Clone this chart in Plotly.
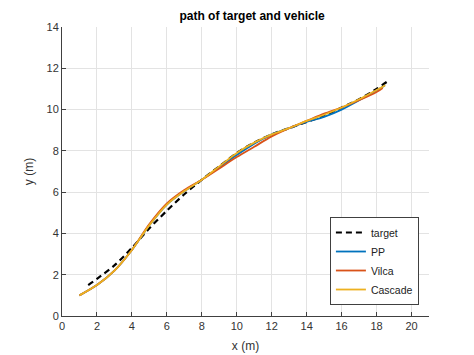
import plotly.graph_objects as go

target_x = [1.5, 2, 3, 4, 5, 6, 7, 8, 9, 10, 11, 12, 13, 14, 15, 16, 17, 18, 18.65]
target_y = [1.5, 1.8, 2.45, 3.3, 4.25, 5.1, 5.9, 6.6, 7.25, 7.9, 8.4, 8.8, 9.1, 9.4, 9.7, 10.1, 10.5, 11.0, 11.38]

pp_x = [1, 2, 3, 4, 5, 6, 7, 8, 9, 10, 11, 12, 13, 14, 15, 16, 17, 18, 18.45]
pp_y = [1.0, 1.5, 2.2, 3.2, 4.4, 5.4, 6.05, 6.6, 7.2, 7.8, 8.35, 8.8, 9.1, 9.4, 9.65, 10.0, 10.45, 10.92, 11.15]

vilca_x = [1, 2, 3, 4, 5, 6, 7, 8, 9, 10, 11, 12, 13, 14, 15, 16, 17, 18, 18.35]
vilca_y = [1.0, 1.5, 2.2, 3.2, 4.45, 5.45, 6.1, 6.6, 7.15, 7.7, 8.2, 8.7, 9.1, 9.45, 9.8, 10.1, 10.45, 10.85, 11.05]

cascade_x = [1, 2, 3, 4, 5, 6, 7, 8, 9, 10, 11, 12, 13, 14, 15, 16, 17, 18, 18.5]
cascade_y = [1.0, 1.5, 2.2, 3.2, 4.4, 5.4, 6.05, 6.6, 7.25, 7.9, 8.4, 8.8, 9.1, 9.45, 9.75, 10.1, 10.5, 10.95, 11.18]

x_ticks = [0, 2, 4, 6, 8, 10, 12, 14, 16, 18, 20]
y_ticks = [0, 2, 4, 6, 8, 10, 12, 14]

FONT = "Liberation Sans, Arial, sans-serif"
SM = 0.8

fig = go.Figure()
fig.add_trace(go.Scatter(x=target_x, y=target_y, mode="lines", name="target",
                         line=dict(color="black", width=2.2, dash="6px,4px", shape="spline", smoothing=SM)))
fig.add_trace(go.Scatter(x=pp_x, y=pp_y, mode="lines", name="PP",
                         line=dict(color="#0072BD", width=1.8, shape="spline", smoothing=SM)))
fig.add_trace(go.Scatter(x=vilca_x, y=vilca_y, mode="lines", name="Vilca",
                         line=dict(color="#D95319", width=1.8, shape="spline", smoothing=SM)))
fig.add_trace(go.Scatter(x=cascade_x, y=cascade_y, mode="lines", name="Cascade",
                         line=dict(color="#EDB120", width=1.8, shape="spline", smoothing=SM)))

axis_common = dict(
    showgrid=True, gridcolor="#e3e3e3", gridwidth=1,
    showline=True, linecolor="#404040", linewidth=1,
    ticks="inside", ticklen=4, tickcolor="#404040",
    tickfont=dict(family=FONT, size=11, color="#333333"),
    zeroline=False, mirror=False, automargin=False,
)

fig.update_layout(
    width=474, height=355,
    paper_bgcolor="white", plot_bgcolor="white",
    margin=dict(l=54, r=53, t=19, b=47),
    title=dict(text="<b>path of target and vehicle</b>", x=0.515, xanchor="center",
               y=0.977, yanchor="middle",
               font=dict(family=FONT, size=12, color="black")),
    xaxis=dict(range=[0, 21], tickvals=x_ticks, ticktext=[str(v) for v in x_ticks],
               title=dict(text="x (m)", font=dict(family=FONT, size=12, color="#333333"), standoff=10),
               **axis_common),
    yaxis=dict(range=[0, 14], tickvals=y_ticks, ticktext=[str(v) for v in y_ticks],
               title=dict(text="y (m)", font=dict(family=FONT, size=12, color="#333333"), standoff=10),
               **axis_common),
    legend=dict(x=0.73, y=0.038, xanchor="left", yanchor="bottom",
                bgcolor="white", bordercolor="#404040", borderwidth=1,
                font=dict(family=FONT, size=10.5, color="#222222"),
                itemwidth=30, tracegroupgap=0),
    showlegend=True,
)

fig.write_html("out.html")
